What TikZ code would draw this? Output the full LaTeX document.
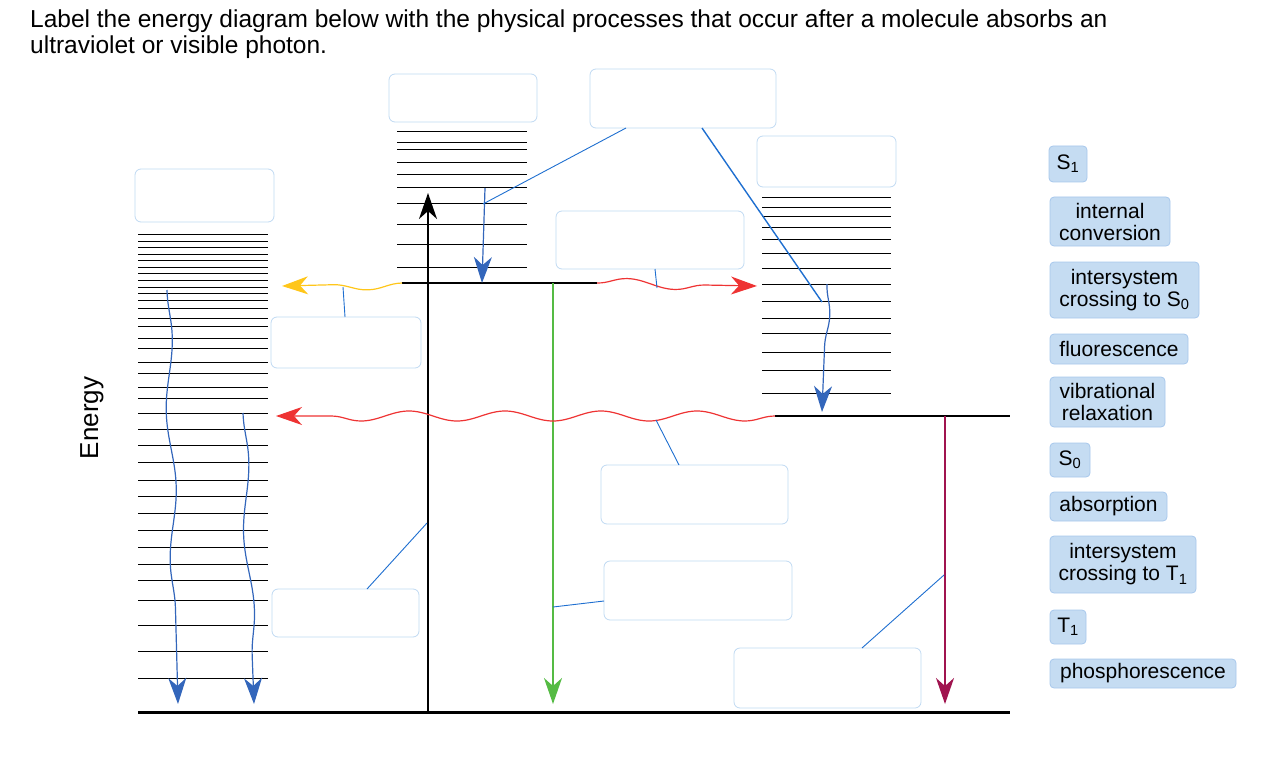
\documentclass[tikz,border=0pt]{standalone}
\usepackage{fontspec}
\setmainfont{Liberation Sans}
\usetikzlibrary{arrows.meta,decorations.pathmorphing}
\definecolor{boxb}{HTML}{BFD9F2}
\definecolor{lead}{HTML}{1F6FD0}
\definecolor{tagf}{HTML}{C5DCF2}
\definecolor{tagd}{HTML}{A7C8EC}
\definecolor{wblue}{HTML}{3366BB}
\definecolor{wred}{HTML}{EE3333}
\definecolor{wyel}{HTML}{FFC61A}
\definecolor{wgreen}{HTML}{55BB44}
\definecolor{wpur}{HTML}{A0144F}
\begin{document}
\begin{tikzpicture}[x=1pt,y=-1pt,
  ansbox/.style={draw=boxb,rounded corners=6pt,line width=0.8pt},
  tag/.style={fill=tagf,draw=tagd,rounded corners=4pt,line width=0.8pt,font=\fontsize{21}{22}\selectfont,align=center,inner sep=0pt},
  lvl/.style={line width=1pt},
  leadl/.style={draw=lead,line width=0.9pt},
  tip/.style={-{Stealth[length=26pt,width=18pt,inset=8pt]}},
  vwave/.style={decorate,line width=1.2pt,tip},
  hwave/.style={decorate,line width=1.2pt,tip}]
\useasboundingbox (0,0) rectangle (1268,778);
\node[anchor=north west,align=left,inner sep=0pt,font=\fontsize{24.5}{26}\selectfont] (title) at (30,10) {Label the energy diagram below with the physical processes that occur after a molecule absorbs an\\ultraviolet or visible photon.};
\node[rotate=90,font=\fontsize{26}{28}\selectfont] (energy) at (92,418) {Energy};
% levels left
\foreach \y in {234,241,247,254,260,267,273,280,287,293,300,308,318,326,338,348,362,373,387,398,413,429,445,462,480,496,513,530,547,564,580,600,625,651,678}
  \draw[lvl] (138,\y) -- (268,\y);
\foreach \y in {132,143,150,163,175,188,203,224,244,267}
  \draw[lvl] (397,\y) -- (527,\y);
\foreach \y in {198,207,216,227,239,253,268,284,301,318,333,352,370,393}
  \draw[lvl] (762,\y) -- (891,\y);
\coordinate (s1l) at (402,283); \coordinate (s1r) at (597,283);
\draw[line width=1.6pt] (s1l) -- (s1r);
\coordinate (t1l) at (775,416); \coordinate (t1r) at (1010,416);
\draw[line width=1.6pt] (t1l) -- (t1r);
\coordinate (g0) at (138,712); \coordinate (g1) at (1010,712);
\draw[line width=3pt] (g0) -- (g1);
% arrows
\coordinate (a0) at (428,712); \coordinate (a1) at (428,193);
\draw[line width=1.6pt,tip] (a0) -- (a1);
\coordinate (f1) at (553,704);
\draw[wgreen,line width=1.4pt,tip] (553,283) -- (f1);
\coordinate (p1) at (945,704);
\draw[wpur,line width=1.4pt,tip] (945,416) -- (p1);
\draw[wblue,vwave,decoration={snake,amplitude=4pt,segment length=150pt,post length=22pt}] (167,290) -- (178,704);
\draw[wblue,vwave,decoration={snake,amplitude=4pt,segment length=150pt,post length=22pt}] (243,413) -- (254,704);
\draw[wblue,vwave,decoration={snake,amplitude=4pt,segment length=120pt,post length=22pt}] (485,188) -- (482,283);
\draw[wblue,vwave,decoration={snake,amplitude=4pt,segment length=100pt,post length=22pt}] (827,284) -- (822,412);
\draw[wyel,hwave,decoration={snake,amplitude=6pt,segment length=110pt,post length=22pt}] (s1l) -- (282,286);
\draw[wred,hwave,decoration={snake,amplitude=5pt,segment length=96pt,post length=22pt}] (s1r) -- (757,286);
\draw[wred,hwave,decoration={snake,amplitude=5pt,segment length=96pt,post length=22pt}] (t1l) -- (276,416);
% answer boxes
\draw[ansbox] (135,169) rectangle (274,222);
\draw[ansbox] (389,74) rectangle (537,122);
\draw[ansbox] (590,69) rectangle (776,128);
\draw[ansbox] (757,136) rectangle (896,187);
\draw[ansbox] (556,211) rectangle (744,269);
\draw[ansbox] (271,317) rectangle (421,368);
\draw[ansbox] (601,465) rectangle (788,524);
\draw[ansbox] (604,561) rectangle (792,620);
\draw[ansbox] (272,589) rectangle (419,637);
\draw[ansbox] (734,648) rectangle (921,708);
% leaders
\draw[leadl] (626,128) -- (483,204);
\draw[leadl,line width=1.4pt] (702,128) -- (822,302);
\draw[leadl] (655,269) -- (657,288);
\draw[leadl] (343,287) -- (345,317);
\draw[leadl] (656,420) -- (679,465);
\draw[leadl] (427,523) -- (367,589);
\draw[leadl] (553,607) -- (604,601);
\draw[leadl] (944,575) -- (862,648);
% tags
\node[tag,minimum width=38pt,minimum height=36pt] (tS1) at (1068,164) {S\textsubscript{1}};
\node[tag,minimum width=120pt,minimum height=49pt] (tic) at (1110,221.5) {internal\\conversion};
\node[tag,minimum width=149pt,minimum height=56pt] (tis0) at (1124.5,290) {intersystem\\crossing to S\textsubscript{0}};
\node[tag,minimum width=138pt,minimum height=30pt] (tfl) at (1119,349) {fluorescence};
\node[tag,minimum width=115pt,minimum height=50pt] (tvr) at (1107.5,402) {vibrational\\relaxation};
\node[tag,minimum width=40pt,minimum height=34pt] (tS0) at (1070,460) {S\textsubscript{0}};
\node[tag,minimum width=117pt,minimum height=29pt] (tab) at (1108.5,506.5) {absorption};
\node[tag,minimum width=146pt,minimum height=57pt] (tit1) at (1123,564.5) {intersystem\\crossing to T\textsubscript{1}};
\node[tag,minimum width=36pt,minimum height=34pt] (tT1) at (1068,627) {T\textsubscript{1}};
\node[tag,minimum width=186pt,minimum height=29pt] (tph) at (1143,673.5) {phosphorescence};
\end{tikzpicture}
\end{document}
